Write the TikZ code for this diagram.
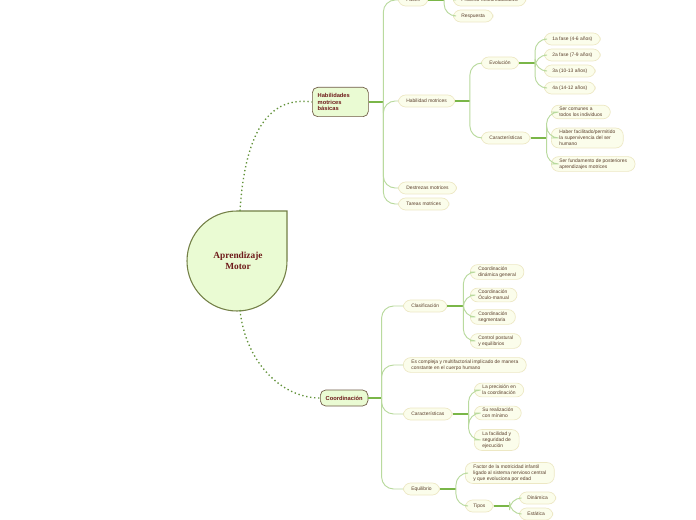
\documentclass[tikz,border=0pt]{standalone}
\usepackage{fontspec}
\setmainfont{Liberation Sans}
\newfontfamily\ttlfont{Liberation Serif}
\usetikzlibrary{positioning}
\definecolor{leaf}{HTML}{FBFDEB}
\definecolor{leafb}{HTML}{EDE8C4}
\definecolor{txt}{HTML}{5A3E2B}
\definecolor{lg}{HTML}{B9DA9E}
\definecolor{dg}{HTML}{7AB648}
\definecolor{mainf}{HTML}{EAFBD3}
\definecolor{mainb}{HTML}{6E5A44}
\definecolor{dark}{HTML}{6E1A1A}
\tikzset{
 leafbox/.style={draw=leafb,fill=leaf,rounded corners=5.5pt,anchor=west,inner xsep=6pt,inner ysep=1.5pt,minimum height=9pt,text=txt,font=\fontsize{3.7}{4.6}\selectfont,align=left,line width=0.5pt},
 topbox/.style={draw=mainb,fill=mainf,rounded corners=4pt,anchor=west,inner xsep=4pt,inner ysep=2pt,text=dark,font=\bfseries\fontsize{4.3}{5.2}\selectfont,align=left,line width=0.5pt},
 conn/.style={draw=lg,line width=0.7pt,rounded corners=9pt},
 trunk/.style={draw=dg,line width=1.1pt},
 dotc/.style={draw=dg!80!black,line width=1pt,dotted},
}
\newcommand{\branch}[3]{\draw[trunk] (#1.east) -- ([xshift=#2]#1.east) coordinate (tmp);
 \foreach \c in {#3}{\draw[conn] (tmp) |- (\c.west);}}
\begin{document}
\begin{tikzpicture}[x=0.75pt,y=-0.75pt]
\useasboundingbox[fill=white] (0,0) rectangle (696,520);
% central
\draw[fill=mainf,draw=mainb!60!dg,line width=0.8pt] (237,211) -- (287,211) -- (287,261) arc[start angle=0,end angle=-270,x radius=50,y radius=-50] -- cycle;
\node (root) at (238,261) [align=center,text=dark,font=\ttlfont\bfseries\fontsize{7}{8}\selectfont] {Aprendizaje\\Motor};
\coordinate (rtop) at (240,211);
\coordinate (rbot) at (240,310);
% top-level
\node[topbox,minimum height=22pt,text width=34pt] (hab) at (312,102) {Habilidades\\motrices\\básicas};
\node[topbox,minimum height=12pt] (coord) at (320,398) {Coordinación};
\draw[dotc] (rtop) .. controls (245,130) and (270,96) .. (hab.west);
\draw[dotc] (rbot) .. controls (245,360) and (280,398) .. (coord.west);
% Habilidades children
\node[leafbox] (fases) at (398,0) {Fases};
\node[leafbox] (hm) at (398,101) {Habilidad motrices};
\node[leafbox] (dm) at (398,188) {Destrezas motrices};
\node[leafbox] (tm) at (398,204) {Tareas motrices};
\branch{hab}{11pt}{fases,hm,dm,tm}
\node[leafbox] (pn) at (453,0) {Proceso neuromadurativo};
\node[leafbox] (resp) at (453,16) {Respuesta};
\branch{fases}{12pt}{pn,resp}
\node[leafbox] (evo) at (481,63) {Evolución};
\node[leafbox] (car1) at (481,138) {Características};
\branch{hm}{11pt}{evo,car1}
\node[leafbox] (f1) at (544,39) {1a fase (4-6 años)};
\node[leafbox] (f2) at (544,55) {2a fase (7-9 años)};
\node[leafbox] (f3) at (544,71) {3a (10-13 años)};
\node[leafbox] (f4) at (544,88) {4a (14-12 años)};
\branch{evo}{12pt}{f1,f2,f3,f4}
\node[leafbox] (c1) at (551,112) {Ser comunes a\\todos los individuos};
\node[leafbox] (c2) at (551,138) {Haber facilitado/permitido\\la supervivencia del ser\\humano};
\node[leafbox] (c3) at (551,164) {Ser fundamento de posteriores\\aprendizajes motrices};
\branch{car1}{12pt}{c1,c2,c3}
% Coordinacion children
\node[leafbox] (clas) at (403,306) {Clasificación};
\node[leafbox] (esc) at (403,365) {Es compleja y multifactorial implicado de manera\\constante en el cuerpo humano};
\node[leafbox] (car2) at (403,414) {Características};
\node[leafbox] (equ) at (403,489) {Equilibrio};
\branch{coord}{10pt}{clas,esc,car2,equ}
\node[leafbox] (k1) at (470,272) {Coordinación\\dinámica general};
\node[leafbox] (k2) at (470,295) {Coordinación\\Óculo-manual};
\node[leafbox] (k3) at (470,317) {Coordinación\\segmentaria};
\node[leafbox] (k4) at (470,341) {Control postural\\y equilibrios};
\branch{clas}{12pt}{k1,k2,k3,k4}
\node[leafbox] (p1) at (474,390) {La precisión en\\la coordinación};
\node[leafbox] (p2) at (474,413) {Su realización\\con mínimo};
\node[leafbox] (p3) at (474,440) {La facilidad y\\seguridad de\\ejecución};
\branch{car2}{12pt}{p1,p2,p3}
\node[leafbox] (e1) at (465,473) {Factor de la motricidad infantil\\ligado al sistema nervioso central\\y que evoluciona por edad};
\node[leafbox] (tipos) at (465,506) {Tipos};
\branch{equ}{12pt}{e1,tipos}
\node[leafbox] (din) at (519,498) {Dinámica};
\node[leafbox] (est) at (519,514) {Estática};
\branch{tipos}{12pt}{din,est}
\end{tikzpicture}
\end{document}
